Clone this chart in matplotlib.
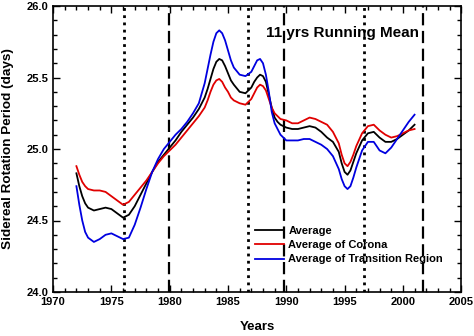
import matplotlib
matplotlib.use("Agg")
import matplotlib.pyplot as plt
from matplotlib.ticker import MultipleLocator, FormatStrFormatter

plt.rcParams['font.family'] = ['Liberation Sans', 'DejaVu Sans']
plt.rcParams['font.weight'] = 'bold'

years = [1972, 1972.25, 1972.5, 1972.75, 1973, 1973.5, 1974, 1974.5, 1975, 1975.5,
         1976, 1976.5, 1977, 1977.5, 1978, 1978.5, 1979, 1979.5, 1980, 1980.5,
         1981, 1981.5, 1982, 1982.5, 1983, 1983.25, 1983.5, 1983.75, 1984, 1984.25,
         1984.5, 1984.75, 1985, 1985.25, 1985.5, 1986, 1986.5, 1987, 1987.25, 1987.5,
         1987.75, 1988, 1988.25, 1988.5, 1988.75, 1989, 1989.25, 1989.5, 1990, 1990.5,
         1991, 1991.5, 1992, 1992.5, 1993, 1993.5, 1994, 1994.5, 1994.75, 1995,
         1995.25, 1995.5, 1995.75, 1996, 1996.5, 1997, 1997.5, 1998, 1998.5, 1999,
         1999.5, 2000, 2000.5, 2001]

average = [24.83, 24.74, 24.67, 24.62, 24.59, 24.57, 24.58, 24.59, 24.58, 24.55,
           24.52, 24.54, 24.60, 24.68, 24.76, 24.84, 24.91, 24.96, 25.01, 25.06,
           25.12, 25.17, 25.22, 25.28, 25.36, 25.42, 25.49, 25.56, 25.61, 25.63,
           25.62, 25.58, 25.53, 25.48, 25.45, 25.40, 25.39, 25.43, 25.47, 25.50,
           25.52, 25.51, 25.47, 25.38, 25.29, 25.22, 25.19, 25.17, 25.15, 25.14,
           25.14, 25.15, 25.16, 25.15, 25.12, 25.08, 25.05, 24.98, 24.90, 24.84,
           24.82, 24.85, 24.91, 24.97, 25.06, 25.11, 25.12, 25.08, 25.05, 25.05,
           25.07, 25.10, 25.13, 25.17]

corona = [24.88, 24.82, 24.77, 24.74, 24.72, 24.71, 24.71, 24.70, 24.67, 24.64,
          24.61, 24.63, 24.68, 24.73, 24.78, 24.84, 24.90, 24.95, 24.99, 25.03,
          25.08, 25.13, 25.18, 25.23, 25.29, 25.34, 25.40, 25.45, 25.48, 25.49,
          25.47, 25.43, 25.40, 25.36, 25.34, 25.32, 25.31, 25.35, 25.39, 25.43,
          25.45, 25.44, 25.41, 25.35, 25.29, 25.25, 25.23, 25.21, 25.20, 25.18,
          25.18, 25.20, 25.22, 25.21, 25.19, 25.17, 25.12, 25.04, 24.96, 24.90,
          24.88, 24.91, 24.96, 25.02, 25.11, 25.16, 25.17, 25.13, 25.10, 25.08,
          25.09, 25.11, 25.13, 25.14]

transition = [24.74, 24.61, 24.50, 24.42, 24.38, 24.35, 24.37, 24.40, 24.41, 24.39,
              24.37, 24.38, 24.47, 24.59, 24.72, 24.84, 24.93, 25.00, 25.05, 25.10,
              25.14, 25.19, 25.25, 25.32, 25.46, 25.56, 25.66, 25.75, 25.81, 25.83,
              25.81, 25.76, 25.69, 25.62, 25.57, 25.52, 25.51, 25.54, 25.58, 25.62,
              25.63, 25.60, 25.52, 25.40, 25.26, 25.18, 25.14, 25.10, 25.06, 25.06,
              25.06, 25.07, 25.07, 25.05, 25.03, 25.00, 24.95, 24.86, 24.79, 24.74,
              24.72, 24.74, 24.80, 24.87, 24.99, 25.05, 25.05, 24.99, 24.97, 25.01,
              25.07, 25.13, 25.19, 25.24]

dotted_years = [1976.1, 1986.7, 1996.7]
dashed_years = [1979.9, 1989.8, 2001.7]

labels = ["Average", "Average of Corona", "Average of Transition Region"]
colors = ["black", "#e00000", "#0000e0"]

fig = plt.figure(figsize=(4.74, 3.36), dpi=100)
ax = fig.add_axes([0.112, 0.131, 0.861, 0.851])

for x in dotted_years:
    ax.axvline(x, color='black', linestyle=(0, (1, 1.6)), linewidth=2.0, zorder=1)
for x in dashed_years:
    ax.axvline(x, color='black', linestyle=(0, (5.5, 2.5)), linewidth=1.6, zorder=1)

for series, lab, col in zip([average, corona, transition], labels, colors):
    ax.plot(years, series, color=col, linewidth=1.3, label=lab, zorder=3,
            solid_joinstyle='round')

ax.set_xlim(1970, 2005)
ax.set_ylim(24.0, 26.0)
ax.xaxis.set_major_locator(MultipleLocator(5))
ax.xaxis.set_minor_locator(MultipleLocator(1))
ax.yaxis.set_major_locator(MultipleLocator(0.5))
ax.yaxis.set_minor_locator(MultipleLocator(0.1))
ax.yaxis.set_major_formatter(FormatStrFormatter('%.1f'))
ax.tick_params(which='both', direction='in', top=True, right=True, width=1.0,
               labelsize=8)
ax.tick_params(which='major', length=5)
ax.tick_params(which='minor', length=3)
for s in ax.spines.values():
    s.set_linewidth(1.2)

ax.set_xlabel("Years", fontsize=9.5, fontweight='bold', labelpad=10)
ax.set_ylabel("Sidereal Rotation Period (days)", fontsize=9.7, fontweight='bold')
ax.yaxis.set_label_coords(-0.097, 0.5)

ax.text(0.709, 0.905, "11 yrs Running Mean", transform=ax.transAxes,
        fontsize=11, fontweight='bold', ha='center', va='center', zorder=5)

leg = ax.legend(loc='upper left', bbox_to_anchor=(0.484, 0.248), frameon=False,
                fontsize=8, handlelength=2.6, handletextpad=0.4, labelspacing=0.4,
                borderaxespad=0)

fig.savefig("out.png", dpi=100)
